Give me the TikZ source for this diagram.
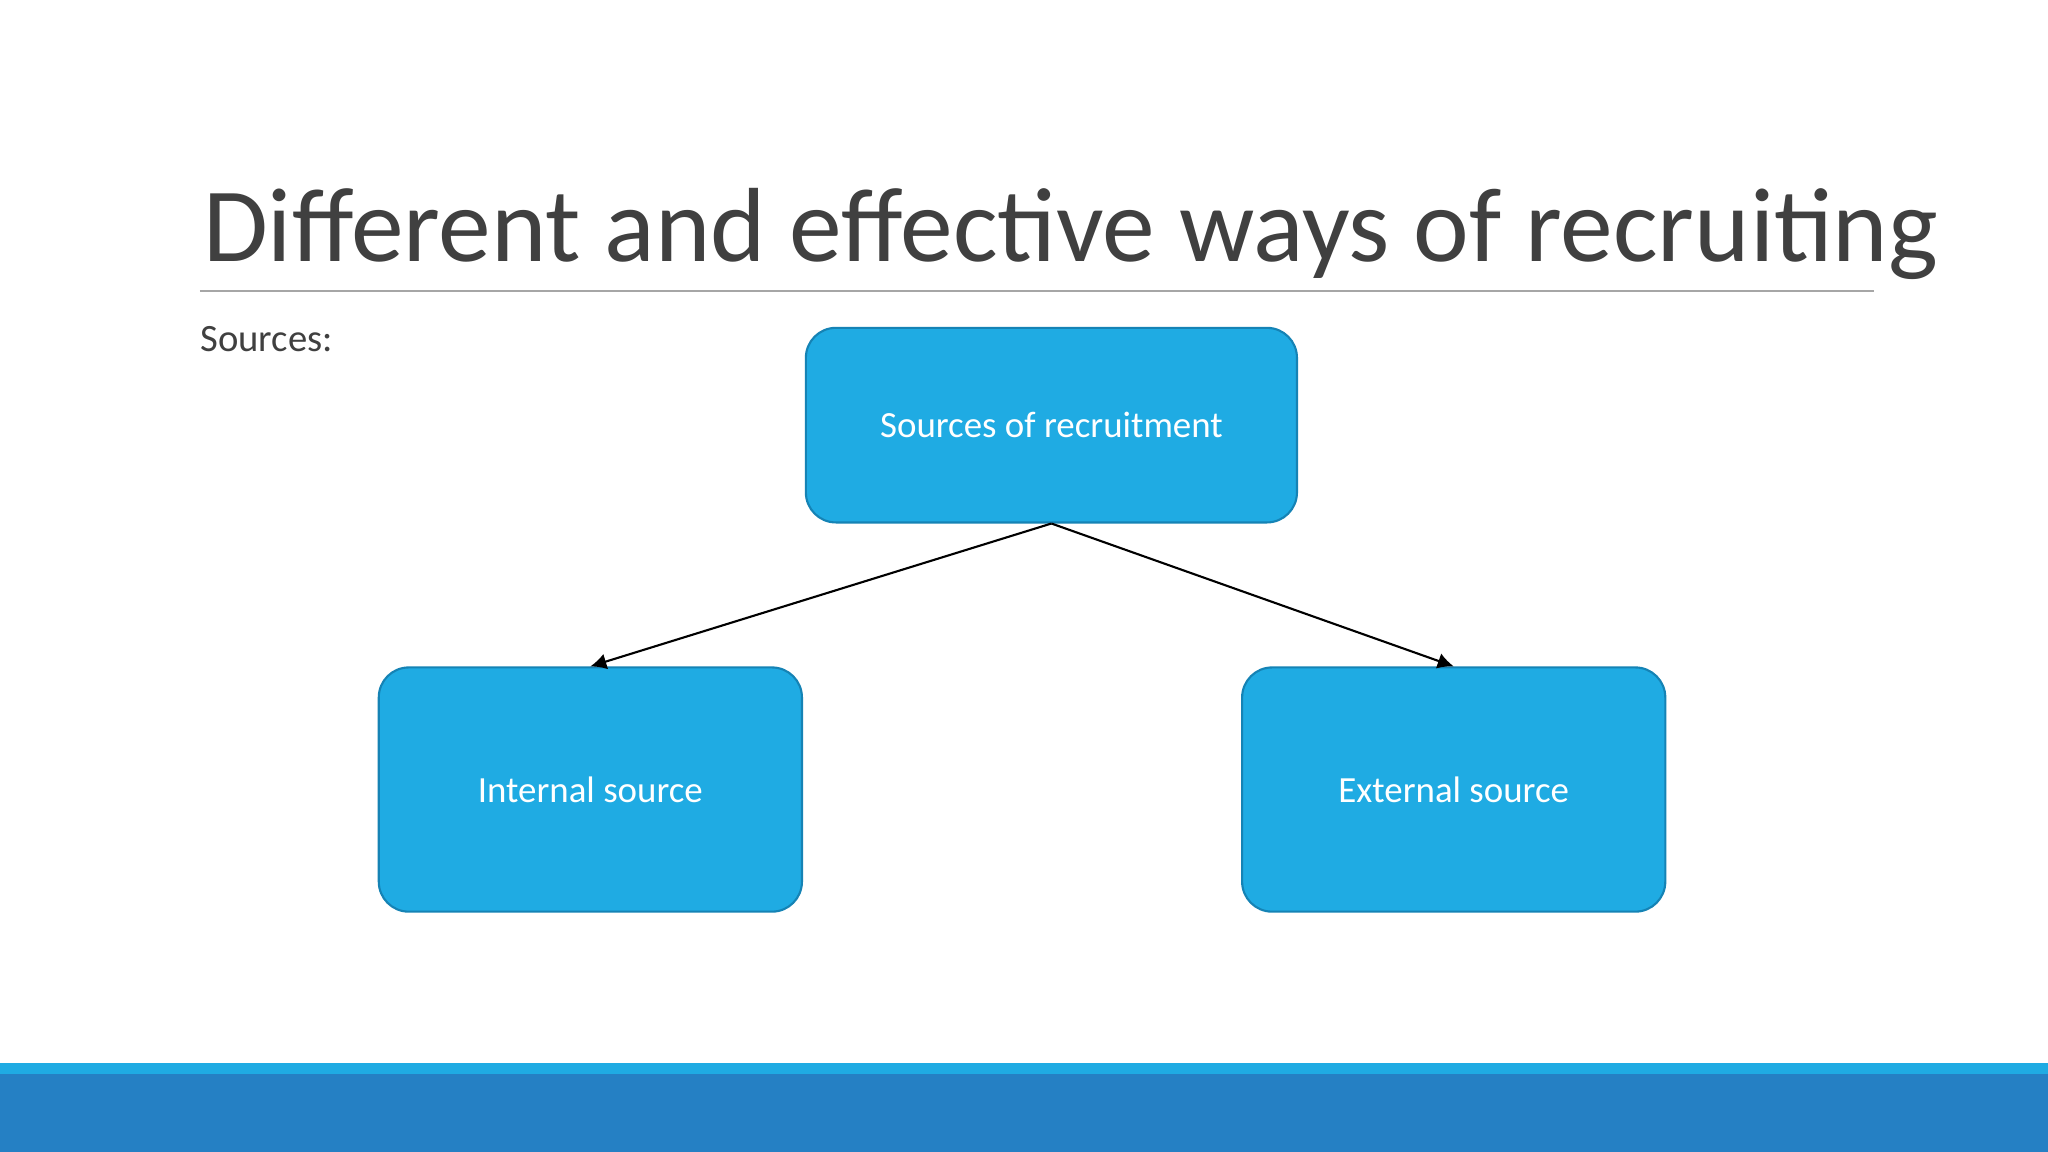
\documentclass[tikz,border=0pt]{standalone}
\usepackage{fontspec}
\setmainfont{Carlito}
\usetikzlibrary{positioning,arrows.meta}
\definecolor{boxblue}{HTML}{1FABE3}
\definecolor{boxline}{HTML}{1583B5}
\definecolor{barblue}{HTML}{2580C4}
\definecolor{titlegray}{HTML}{404040}
\tikzset{>={Latex[width=1.6mm,length=1.6mm]}}
\tikzset{srcbox/.style={draw=boxline,fill=boxblue,rounded corners=0.3cm,text=white,
  font=\fontsize{10.5pt}{12pt}\selectfont,line width=0.6pt}}
\begin{document}
\begin{tikzpicture}[x=0.013061cm,y=-0.013061cm]
	\useasboundingbox (0,0) rectangle (1568,882);
	\fill[white] (0,0) rectangle (1568,882);
	\fill[boxblue] (0,814) rectangle (1568,822);
	\fill[barblue] (0,822) rectangle (1568,882);
	
	\node(title) [anchor=base west,inner sep=0,text=titlegray,font=\fontsize{30pt}{34pt}\selectfont] at (155,200) {Different and effective ways of recruiting};
	\draw[gray!70,line width=0.5pt] (153,223) -- (1435,223);
	\node(src) [anchor=west,inner sep=0,text=titlegray,font=\fontsize{11pt}{13pt}\selectfont] at (153,260) {Sources:};
	
	\node(top) [srcbox,minimum width=376*0.013061cm,minimum height=149*0.013061cm] at (805,325.5) {Sources of recruitment};
	\node(int) [srcbox,minimum width=324*0.013061cm,minimum height=187*0.013061cm] at (452,604.5) {Internal source};
	\node(ext) [srcbox,minimum width=324*0.013061cm,minimum height=187*0.013061cm] at (1113,604.5) {External source};
	
	\draw[->,line width=0.6pt](top.south) -- (int.north);
	\draw[->,line width=0.6pt](top.south) -- (ext.north);
\end{tikzpicture}
\end{document}
